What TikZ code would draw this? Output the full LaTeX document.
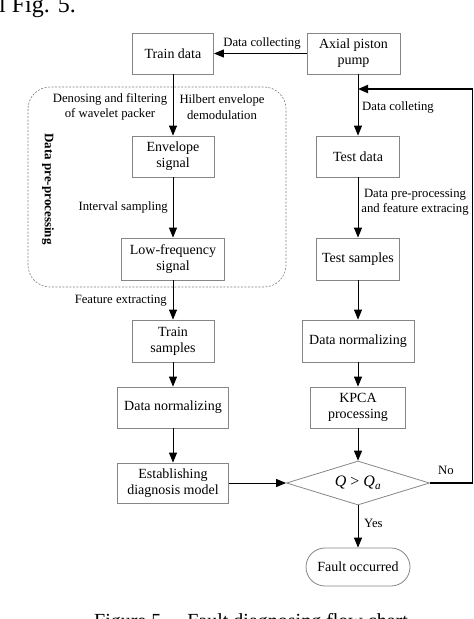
\documentclass[tikz,border=0pt]{standalone}
\usepackage{fontspec}
\setmainfont{Liberation Serif}
\usetikzlibrary{arrows.meta,shapes.geometric}

\begin{document}
\begin{tikzpicture}[x=1pt,y=-1pt,
  box/.style={draw=gray!95,line width=0.8pt,minimum height=41pt,inner sep=1pt,align=center,font=\fontsize{14}{16}\selectfont},
  lbl/.style={inner sep=0pt,align=center,font=\fontsize{12.7}{15.5}\selectfont},
  arr/.style={-{Triangle[length=10pt,width=8pt]},line width=1pt}]
  \useasboundingbox (0,0) rectangle (474,619);
  \node[anchor=base west,inner sep=0pt,font=\fontsize{24}{24}\selectfont] (figref) at (-1,12) {l Fig. 5.};

  % left column
  \node[box,minimum width=81pt] (train) at (173,53.5) {Train data};
  \node[box,minimum width=82pt] (env) at (173,156.5) {Envelope\\signal};
  \node[box,minimum width=103pt,minimum height=42pt] (low) at (173,259) {Low-frequency\\signal};
  \node[box,minimum width=82pt,minimum height=42pt] (trs) at (173,341) {Train\\samples};
  \node[box,minimum width=111pt] (norma) at (173,407.5) {Data normalizing};
  \node[box,minimum width=111pt,minimum height=40pt] (model) at (173,483) {Establishing\\diagnosis model};

  % right column
  \node[box,minimum width=93pt] (pump) at (353.5,53.5) {Axial piston\\pump};
  \node[box,minimum width=83pt] (test) at (358,156.5) {Test data};
  \node[box,minimum width=83pt,minimum height=42pt] (tss) at (358,259) {Test samples};
  \node[box,minimum width=112pt,minimum height=42pt] (normb) at (358,341) {Data normalizing};
  \node[box,minimum width=95pt] (kpca) at (358,407.5) {KPCA\\processing};
  \node[box,shape=diamond,aspect=3.25,inner sep=0pt,minimum width=143pt,minimum height=44pt,font=\fontsize{16}{16}\selectfont] (dia) at (358,483) {\textit{Q} > \textit{Q}\textsubscript{\textit{a}}};
  \node[box,rounded corners=19pt,minimum width=104pt,minimum height=38pt] (fault) at (358,567) {Fault occurred};

  % pre-processing frame
  \draw[gray,line width=0.6pt,dash pattern=on 2pt off 1.5pt,rounded corners=22pt] (28,87) rectangle (286,287);
  \node[rotate=-90,inner sep=0pt,font=\bfseries\fontsize{13}{13}\selectfont] (prep) at (48,189) {Data pre-processing};

  % connectors
  \draw[arr] (pump) -- (train);
  \draw[arr] (train) -- (env);
  \draw[arr] (env) -- (low);
  \draw[arr] (low) -- (trs);
  \draw[arr] (trs) -- (norma);
  \draw[arr] (norma) -- (model);
  \draw[arr] (model) -- (dia);
  \draw[arr] (test.north |- pump.south) -- (test.north);
  \draw[arr] (test) -- (tss);
  \draw[arr] (tss) -- (normb);
  \draw[arr] (normb) -- (kpca);
  \draw[arr] (kpca) -- (dia.north);
  \draw[arr] (dia.south) -- (fault);
  \coordinate (fbcorner) at (472.5,89);
  \coordinate (fbin) at (358,89);
  \draw[arr,line width=1.8pt] (dia.east) -| (fbcorner) -- (fbin);

  % labels
  \node[lbl] (lcollect) at (262,43) {Data collecting};
  \node[lbl] (ldenoise) at (110,107) {Denosing and filtering\\of wavelet packer};
  \node[lbl] (lhilbert) at (222,107) {Hilbert envelope\\demodulation};
  \node[lbl,anchor=east] (linterval) at (168,207) {Interval sampling};
  \node[lbl,anchor=east] (lfeature) at (167,301) {Feature extracting};
  \node[lbl,anchor=west] (lcolleting) at (362,107) {Data colleting};
  \node[lbl] (lprep) at (415,202) {Data pre-processing\\and feature extracing};
  \node[lbl] (lno) at (446,470) {No};
  \node[lbl,anchor=west] (lyes) at (364,523) {Yes};

  \node[anchor=base,inner sep=0pt,font=\fontsize{20}{20}\selectfont] (cap) at (251,627) {Figure 5\hspace{1.3em}Fault diagnosing flow chart};
\end{tikzpicture}
\end{document}
